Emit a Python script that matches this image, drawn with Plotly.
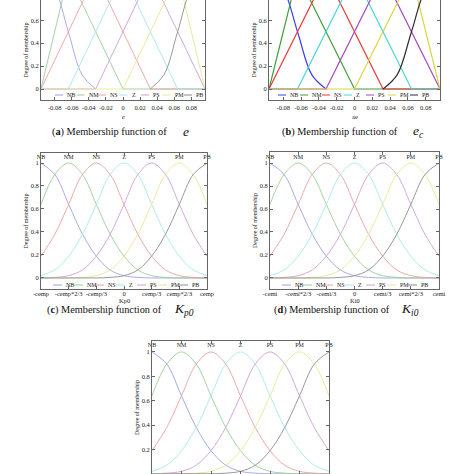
import plotly.graph_objects as go

W = H = 474

names = ["NB", "NM", "NS", "Z", "PS", "PM", "PB"]

# membership functions of e / ec, universe [-0.096, 0.096]
nb_x = [-0.096, -0.08, -0.064, -0.048, -0.032]
nb_y = [1, 0.875, 0.5, 0.125, 0]
nm_x = [-0.096, -0.064, 0.0, 0.096]
nm_y = [0, 1, 0, 0]
ns_x = [-0.096, -0.032, 0.032, 0.096]
ns_y = [0, 1, 0, 0]
z_x = [-0.096, -0.064, 0.0, 0.064, 0.096]
z_y = [0, 0, 1, 0, 0]
ps_x = [-0.096, -0.032, 0.032, 0.096]
ps_y = [0, 0, 1, 0]
pm_x = [-0.096, 0.0, 0.064, 0.096]
pm_y = [0, 0, 1, 0]
pb_x = [0.032, 0.048, 0.064, 0.08, 0.096]
pb_y = [0, 0.125, 0.5, 0.875, 1]
e_ticks = [-0.08, -0.06, -0.04, -0.02, 0, 0.02, 0.04, 0.06, 0.08]
e_ticktext = ["-0.08", "-0.06", "-0.04", "-0.02", "0", "0.02", "0.04", "0.06", "0.08"]

# gaussian membership functions of Kp0 / Ki0 / Kd0 (x in units of cem/3)
k_x = [-3, -2.5, -2, -1.5, -1, -0.5, 0, 0.5, 1, 1.5, 2, 2.5, 3]
k_nb = [1, 0.9, 0.64, 0.38, 0.19, 0.07, 0.02, 0.005, 0, 0, 0, 0, 0]
k_nm = [0.64, 0.9, 1, 0.9, 0.64, 0.38, 0.19, 0.07, 0.02, 0.005, 0, 0, 0]
k_ns = [0.19, 0.38, 0.64, 0.9, 1, 0.9, 0.64, 0.38, 0.19, 0.07, 0.02, 0.005, 0]
k_z = [0.02, 0.07, 0.19, 0.38, 0.64, 0.9, 1, 0.9, 0.64, 0.38, 0.19, 0.07, 0.02]
k_ps = [0, 0.005, 0.02, 0.07, 0.19, 0.38, 0.64, 0.9, 1, 0.9, 0.64, 0.38, 0.19]
k_pm = [0, 0, 0, 0.005, 0.02, 0.07, 0.19, 0.38, 0.64, 0.9, 1, 0.9, 0.64]
k_pb = [0, 0, 0, 0, 0, 0.005, 0.02, 0.07, 0.19, 0.38, 0.64, 0.9, 1]
k_centers = [-3, -2, -1, 0, 1, 2, 3]
kp_ticktext = ["-cemp", "-cemp*2/3", "-cemp/3", "0", "cemp/3", "cemp*2/3", "cemp"]
ki_ticktext = ["-cemi", "-cemi*2/3", "-cemi/3", "0", "cemi/3", "cemi*2/3", "cemi"]
kd_ticktext = ["-cemd", "-cemd*2/3", "-cemd/3", "0", "cemd/3", "cemd*2/3", "cemd"]

faded = ["#a0a0e2", "#98cf98", "#eaa0a0", "#a6e8e8", "#cf9fd5", "#e8e894", "#8c8c8c"]
bright = ["#3c3cee", "#3e9e3e", "#ee3434", "#48d6d6", "#a444c2", "#d6d644", "#2e2e2e"]

FONT = "Liberation Serif"
AX = "#666666"

e_curves = [(nb_x, nb_y, "spline"), (nm_x, nm_y, "linear"), (ns_x, ns_y, "linear"),
            (z_x, z_y, "linear"), (ps_x, ps_y, "linear"), (pm_x, pm_y, "linear"),
            (pb_x, pb_y, "spline")]
k_curves = [k_nb, k_nm, k_ns, k_z, k_ps, k_pm, k_pb]


def px(p):
    return p / W


def py(p):
    return 1 - p / H


fig = go.Figure()
layout = {}
shapes = []
annotations = []


def add_axes(n, xdom, ydom, xrange, yrange, tickvals, ticktext, top=True, lab_off=0):
    xs = "" if n == 1 else str(n)
    layout["xaxis" + xs] = dict(
        domain=[px(xdom[0]), px(xdom[1])], range=xrange, anchor="y" + xs,
        showline=True, linecolor=AX, linewidth=0.8, mirror="ticks" if top else False,
        ticks="inside", ticklen=3, tickcolor=AX, tickwidth=0.7,
        tickvals=tickvals, ticktext=ticktext, showgrid=False, zeroline=False,
        tickfont=dict(family=FONT, size=6.5, color="#222"), ticklabelstandoff=lab_off,
        automargin=False,
    )
    layout["yaxis" + xs] = dict(
        domain=[py(ydom[1]), py(ydom[0])], range=yrange, anchor="x" + xs,
        showline=True, linecolor=AX, linewidth=0.8, mirror="ticks",
        ticks="inside", ticklen=3, tickcolor=AX, tickwidth=0.7,
        tickvals=[0, 0.2, 0.4, 0.6, 0.8, 1], showgrid=False, zeroline=False,
        tickfont=dict(family=FONT, size=6.5, color="#222"),
        title=dict(text="Degree of membership", font=dict(family=FONT, size=6, color="#222"), standoff=1),
        automargin=False,
    )
    return "x" + xs, "y" + xs


def add_xtitle(x, y, text):
    annotations.append(dict(xref="paper", yref="paper", x=px(x), y=py(y),
                            xanchor="center", yanchor="middle", showarrow=False, text=text,
                            font=dict(family=FONT, size=6.5, color="#222")))


def add_legend(x0, y0, step, linelen, colors):
    for i, (name, c) in enumerate(zip(names, colors)):
        xa = x0 + i * step
        shapes.append(dict(type="line", xref="paper", yref="paper",
                           x0=px(xa), x1=px(xa + linelen), y0=py(y0), y1=py(y0),
                           line=dict(color=c, width=1)))
        annotations.append(dict(xref="paper", yref="paper", x=px(xa + linelen + 2), y=py(y0),
                                xanchor="left", yanchor="middle", showarrow=False, text=name,
                                font=dict(family=FONT, size=6, color="#222")))


def add_caption(x, y, label, sym_x, sym):
    annotations.append(dict(xref="paper", yref="paper", x=px(x), y=py(y),
                            xanchor="left", yanchor="middle", showarrow=False,
                            text="(<b>%s</b>) Membership function of" % label,
                            font=dict(family=FONT, size=10.3, color="#111")))
    annotations.append(dict(xref="paper", yref="paper", x=px(sym_x), y=py(y - 1),
                            xanchor="left", yanchor="middle", showarrow=False, text=sym,
                            font=dict(family=FONT, size=13.5, color="#111")))


# (a) and (b): top of the axes is cut off by the image edge
ab_yrange = [-0.096, 0.777]
for n, xdom, colors, xtitle, lx, step in [(1, (41, 205), faded, "<i>e</i>", 55, 21.5),
                                          (2, (269, 440), bright, "ae", 278, 22)]:
    xr, yr = add_axes(n, xdom, (0, 100), [-0.096, 0.096], ab_yrange, e_ticks, e_ticktext,
                      top=False, lab_off=1)
    for (cx, cy, shape), c in zip(e_curves, colors):
        fig.add_trace(go.Scatter(x=cx, y=cy, xaxis=xr, yaxis=yr, mode="lines",
                                 line=dict(color=c, width=0.9 if n == 1 else 1.2, shape=shape),
                                 showlegend=False, hoverinfo="skip"))
    add_legend(lx, 95, step, 8, colors)
    add_xtitle((xdom[0] + xdom[1]) / 2, 117, xtitle)

# (c), (d), (e): gaussian sets
for n, xdom, ydom, yrange, ticktext, xtitle in [
        (3, (41, 207), (153, 289), [-0.096, 1.087], kp_ticktext, "Kp0"),
        (4, (270, 439), (152, 289), [-0.096, 1.096], ki_ticktext, "Ki0"),
        (5, (152, 329), (341, 474), [-0.002, 1.09], kd_ticktext, "Kd0")]:
    xr, yr = add_axes(n, xdom, ydom, [-3, 3], yrange, k_centers, ticktext, lab_off=-2)
    for vals, c in zip(k_curves, faded):
        fig.add_trace(go.Scatter(x=k_x, y=vals, xaxis=xr, yaxis=yr, mode="lines",
                                 line=dict(color=c, width=0.9, shape="spline"),
                                 showlegend=False, hoverinfo="skip"))
    fig.add_trace(go.Scatter(x=k_centers, y=[1.05] * len(names), text=names, mode="text",
                             xaxis=xr, yaxis=yr, cliponaxis=False,
                             textfont=dict(family=FONT, size=6, color="#222"),
                             showlegend=False, hoverinfo="skip"))
    if n < 5:
        add_legend(xdom[0] + 12, 285, 21, 9, faded)
        add_xtitle((xdom[0] + xdom[1]) / 2, 300, xtitle)

add_caption(50, 132, "a", 181, "<i>e</i>")
add_caption(280, 132, "b", 411, "<i>e</i><sub><i>c</i></sub>")
add_caption(45, 310, "c", 172, "<i>K</i><sub><i>p0</i></sub>")
add_caption(272, 310, "d", 399, "<i>K</i><sub><i>i0</i></sub>")

fig.update_layout(**layout)
fig.update_layout(width=W, height=H, margin=dict(l=0, r=0, t=0, b=0),
                  paper_bgcolor="white", plot_bgcolor="white",
                  shapes=shapes, annotations=annotations)
fig.write_html("out.html", config={"displayModeBar": False},
               post_script="document.body.style.margin='0';")
